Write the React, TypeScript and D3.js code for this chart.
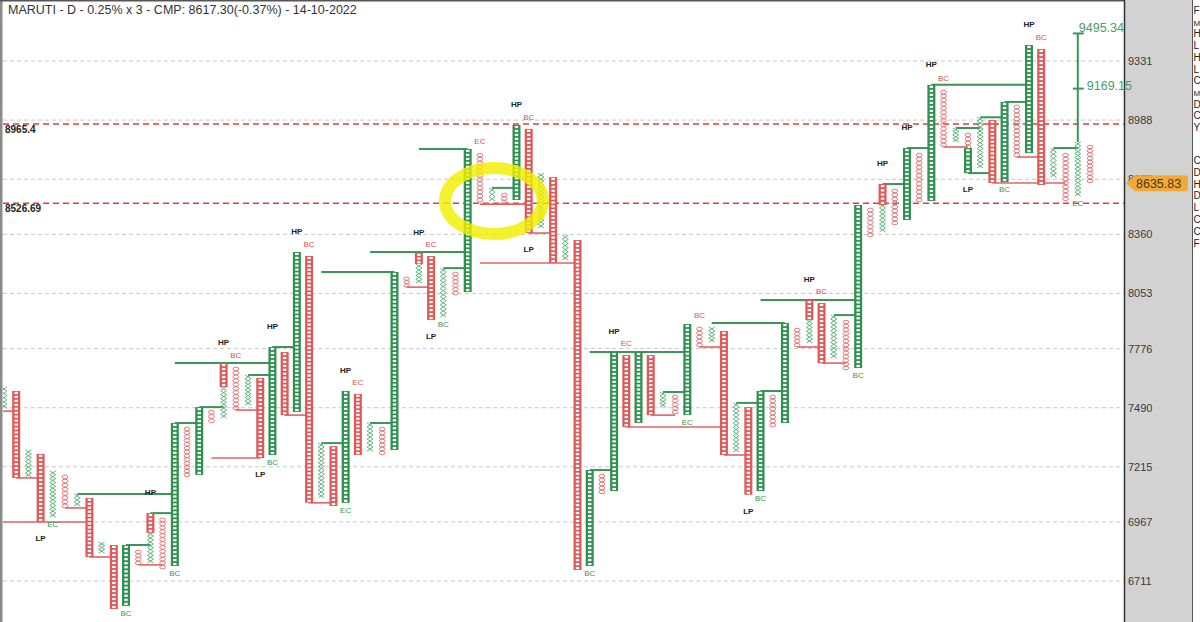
import React from "react";
import * as d3 from "d3";

const TITLE = "MARUTI - D - 0.25% x 3 - CMP: 8617.30(-0.37%) - 14-10-2022";
const BOX_PCT = 0.0025;
const TICKS = [9331, 8988, 8657, 8360, 8053, 7776, 7490, 7215, 6967, 6711];
const LEVEL_VALUES = [8965.4, 8526.69];
const LEVEL_LABELS = ["8965.4", "8526.69"];
const CMP_TAG = 8635.83;
const TARGET_VALUES = [9495.34, 9169.15];
const TARGET_LABELS = ["9495.34", "9169.15"];
const TARGET_COL = 89;

// column kinds: GB = boxed X (dark green), RB = boxed O (red), X = crosses, O = circles
const COL_KIND = [
  "X", "RB", "X", "RB", "X", "O", "X", "RB", "X", "RB",
  "GB", "O", "X", "O", "GB", "O", "GB", "O", "X", "O",
  "X", "RB", "GB", "RB", "GB", "RB", "X", "RB", "GB", "RB",
  "X", "O", "GB", "O", "X", "RB", "X", "O", "GB", "O",
  "X", "O", "GB", "RB", "X", "RB", "X", "RB", "GB", "O",
  "GB", "RB", "GB", "RB", "X", "O", "GB", "O", "X", "RB",
  "X", "RB", "GB", "O", "GB", "O", "X", "RB", "X", "O",
  "GB", "O", "X", "O", "GB", "O", "GB", "O", "X", "O",
  "X", "RB", "GB", "O", "GB", "RB", "X", "O", "X", "O",
];
const COL_HIGH = [
  7589, 7570, 7292, 7274, 7196, 7178, 7092, 7074, 6879, 6866,
  6866, 6844, 7006, 6985, 7418, 7399, 7493, 7479, 7705, 7686,
  7647, 7633, 7784, 7759, 8267, 8246, 7324, 7310, 7570, 7556,
  7418, 7399, 8163, 8137, 8262, 8246, 8183, 8163, 8825, 8802,
  8610, 8582, 8960, 8938, 8691, 8669, 8356, 8330, 7200, 7182,
  7759, 7744, 7759, 7744, 7565, 7551, 7898, 7883, 7883, 7863,
  7513, 7493, 7570, 7551, 7903, 7878, 8019, 8004, 7943, 7918,
  8517, 8501, 8631, 8604, 8830, 8802, 9191, 9161, 8943, 8915,
  9004, 8988, 9092, 9075, 9426, 9402, 8830, 8802, 8864, 8847,
];
const COL_LOW = [
  7488, 7164, 7169, 6967, 6989, 7029, 7038, 6814, 6831, 6593,
  6606, 6780, 6788, 6762, 6775, 7169, 7178, 7418, 7441, 7479,
  7503, 7255, 7269, 7455, 7470, 7052, 7074, 7038, 7052, 7269,
  7287, 7269, 7292, 8085, 8106, 7918, 7933, 8044, 8060, 8533,
  8539, 8522, 8544, 8367, 8394, 8210, 8225, 6758, 6775, 7092,
  7105, 7399, 7418, 7455, 7493, 7460, 7455, 7784, 7809, 7269,
  7283, 7088, 7105, 7399, 7418, 7784, 7804, 7705, 7730, 7671,
  7681, 8346, 8373, 8410, 8437, 8533, 8539, 8836, 8864, 8691,
  8719, 8637, 8642, 8780, 8802, 8626, 8669, 8539, 8566, 8637,
];
// boxed overlays on part of a column: [column, high, low, kind]
const OVERLAYS: [number, number, number, string][] = [
  [13, 7006, 6919, "RB"],
  [19, 7705, 7589, "RB"],
  [35, 8262, 8204, "RB"],
  [67, 8019, 7918, "RB"],
  [73, 8631, 8517, "RB"],
  [80, 8830, 8691, "GB"],
];
// connector lines: [fromCol, toCol, price]
const GREEN_LINES: [number, number, number][] = [
  [7, 15, 7092], [13, 15, 7006], [11, 13, 6866], [15, 17, 7418], [17, 19, 7493],
  [15, 23, 7705], [21, 23, 7647], [23, 25, 7784], [27, 29, 7324], [31, 33, 7418],
  [27, 33, 8163], [31, 39, 8267], [37, 39, 8183], [35, 39, 8825], [41, 43, 8610],
  [49, 51, 7200], [49, 57, 7759], [55, 57, 7565], [59, 65, 7903], [63, 71, 8019],
  [61, 63, 7513], [63, 65, 7570], [69, 71, 7943], [73, 75, 8631], [75, 77, 8830],
  [77, 85, 9191], [79, 81, 8943], [81, 83, 9004], [83, 85, 9092], [87, 89, 8830],
  [80, 82, 8691],
];
const RED_LINES: [number, number, number][] = [
  [0, 2, 7474], [2, 4, 7164], [0, 8, 6967], [6, 8, 7029], [8, 10, 6814],
  [12, 14, 6780], [18, 22, 7255], [20, 22, 7479], [24, 26, 7455], [26, 28, 7052],
  [34, 36, 8085], [40, 44, 8522], [44, 46, 8367], [40, 48, 8210], [52, 60, 7399],
  [54, 56, 7455], [58, 60, 7784], [60, 62, 7269], [66, 68, 7784], [68, 70, 7705],
  [78, 80, 8836], [84, 86, 8780], [82, 88, 8637],
];
const HP_COLS = [13, 19, 23, 25, 29, 35, 43, 51, 67, 73, 75, 77, 85];
const LP_COLS = [4, 22, 36, 44, 62, 80];
const RED_TAG_COLS = [20, 26, 30, 36, 40, 44, 52, 58, 68, 78, 86];
const RED_TAG_TEXT = ["BC", "BC", "EC", "EC", "EC", "BC", "EC", "BC", "BC", "BC", "BC"];
const GREEN_TAG_COLS = [5, 11, 15, 23, 29, 37, 49, 57, 63, 71, 83, 89];
const GREEN_TAG_TEXT = ["EC", "BC", "BC", "BC", "EC", "BC", "BC", "EC", "BC", "BC", "BC", "EC"];
const SIDE_LETTERS_TOP = ["F", "M", "H", "L", "H", "L", "C", "M", "D", "C", "Y"];
const SIDE_LETTERS_BOTTOM = ["C", "D", "H", "D", "L", "C", "C", "F"];

const C = {
  gb: "#2f9150",
  rb: "#e15858",
  x: "#4fae6e",
  o: "#e46a6a",
  gLine: "#3a9556",
  rLine: "#e36464",
  level: "#e03c3c",
  grid: "#c8c8c8",
};

export default function App() {
  const W = 1200, H = 622;
  const chartL = 3, chartR = 1124;
  const y = d3.scaleLog().domain([6711, 9331]).range([581, 61]);
  const x = d3.scaleLinear().domain([1, 90]).range([4, 1090]);
  const boxPx = y(7000) - y(7000 * (1 + BOX_PCT));

  const segment = (key: string, col: number, hi: number, lo: number, kind: string) => {
    const xc = x(col);
    const top = y(hi), bot = y(lo);
    const h = bot - top;
    const n = Math.max(1, Math.round(h / boxPx));
    const step = h / n;
    const idx = d3.range(n);
    if (kind === "GB" || kind === "RB") {
      const fill = kind === "GB" ? C.gb : C.rb;
      return (
        <g key={key}>
          <rect x={xc - 4} y={top} width={8} height={h} fill={fill} />
          {idx.map((k) => (
            <rect key={k} x={xc - 1.7} y={top + k * step + step / 2 - 1.1} width={3.4} height={2.2} fill="#fff" />
          ))}
        </g>
      );
    }
    if (kind === "X") {
      const d = idx
        .map((k) => {
          const cy = top + k * step + step / 2;
          const hh = step / 2;
          return `M${xc - 3},${cy - hh}L${xc + 3},${cy + hh}M${xc + 3},${cy - hh}L${xc - 3},${cy + hh}`;
        })
        .join("");
      return <path key={key} d={d} stroke={C.x} strokeWidth={0.9} fill="none" />;
    }
    return (
      <g key={key} stroke={C.o} strokeWidth={0.9} fill="none">
        {idx.map((k) => (
          <ellipse key={k} cx={xc} cy={top + k * step + step / 2} rx={2.9} ry={Math.max(0.8, step / 2 - 0.2)} />
        ))}
      </g>
    );
  };

  const font = "'Liberation Sans', Arial, sans-serif";

  return (
    <svg width={W} height={H} style={{ position: "absolute", left: 0, top: 0, background: "#fff" }} fontFamily={font}>
      <defs>
        <clipPath id="plot">
          <rect x={chartL} y={0} width={chartR - chartL} height={H} />
        </clipPath>
      </defs>
      <rect x={0} y={0} width={W} height={H} fill="#fff" />
      <g clipPath="url(#plot)">
        {TICKS.map((t) => (
          <line key={t} x1={chartL} x2={chartR} y1={y(t)} y2={y(t)} stroke={C.grid} strokeDasharray="4 3" strokeWidth={1} />
        ))}
        {LEVEL_VALUES.map((v, i) => (
          <line key={i} x1={chartL} x2={chartR} y1={y(v)} y2={y(v)} stroke={C.level} strokeDasharray="6 4" strokeWidth={1.5} />
        ))}
        {RED_LINES.map(([a, b, p], i) => (
          <line key={"r" + i} x1={x(a)} x2={x(b)} y1={y(p)} y2={y(p)} stroke={C.rLine} strokeWidth={1.6} />
        ))}
        {GREEN_LINES.map(([a, b, p], i) => (
          <line key={"g" + i} x1={x(a)} x2={x(b)} y1={y(p)} y2={y(p)} stroke={C.gLine} strokeWidth={2} />
        ))}
        {COL_KIND.map((k, i) => segment("c" + i, i + 1, COL_HIGH[i], COL_LOW[i], k))}
        {OVERLAYS.map(([c, hi, lo, k], i) => segment("ov" + i, c, hi, lo, k))}
        {/* target line */}
        <line x1={x(TARGET_COL)} x2={x(TARGET_COL)} y1={y(TARGET_VALUES[0])} y2={y(COL_HIGH[TARGET_COL - 1])} stroke={C.gLine} strokeWidth={2} />
        {TARGET_VALUES.map((v, i) => (
          <line key={"tt" + i} x1={x(TARGET_COL) - 5} x2={x(TARGET_COL) + 6} y1={y(v)} y2={y(v)} stroke={C.gLine} strokeWidth={2} />
        ))}
        {HP_COLS.map((c) => (
          <text key={"hp" + c} x={x(c)} y={y(COL_HIGH[c - 1]) - 18} fontSize={8} fontWeight="bold" fill="#222" textAnchor="middle">HP</text>
        ))}
        {LP_COLS.map((c) => (
          <text key={"lp" + c} x={x(c)} y={y(COL_LOW[c - 1]) + 19} fontSize={8} fontWeight="bold" fill="#222" textAnchor="middle">LP</text>
        ))}
        {RED_TAG_COLS.map((c, i) => (
          <text key={"rt" + c} x={x(c)} y={y(COL_HIGH[c - 1]) - 9} fontSize={8} fill="#e05050" textAnchor="middle">{RED_TAG_TEXT[i]}</text>
        ))}
        {GREEN_TAG_COLS.map((c, i) => (
          <text key={"gt" + c} x={x(c)} y={y(COL_LOW[c - 1]) + 10} fontSize={8} fill="#3a9556" textAnchor="middle">{GREEN_TAG_TEXT[i]}</text>
        ))}
        {/* highlight ring */}
        <ellipse cx={494} cy={201} rx={49} ry={33} fill="none" stroke="#f2ee00" strokeWidth={12} opacity={0.82} />
        {LEVEL_VALUES.map((v, i) => (
          <text key={"ll" + i} x={5} y={y(v) + 8.5} fontSize={10} fontWeight="bold" fill="#222">{LEVEL_LABELS[i]}</text>
        ))}
        <text x={8} y={14} fontSize={12.5} fill="#333">{TITLE}</text>
      </g>
      {/* frame */}
      <rect x={0} y={0} width={2.5} height={H} fill="#8a8a8a" />
      <rect x={0} y={0} width={chartR} height={1.5} fill="#555" />
      {/* right axis panel */}
      <rect x={chartR} y={0} width={1192 - chartR} height={H} fill="#d2d2d2" />
      <line x1={chartR + 0.5} x2={chartR + 0.5} y1={0} y2={H} stroke="#333" strokeWidth={1.5} />
      <line x1={1192.5} x2={1192.5} y1={0} y2={H} stroke="#555" strokeWidth={1} />
      {TICKS.map((t) => (
        <text key={"yl" + t} x={1128} y={y(t) + 4} fontSize={11} fill="#3a3a3a">{t}</text>
      ))}
      {TARGET_VALUES.map((v, i) => (
        <text key={"tl" + i} x={x(TARGET_COL) + (i === 0 ? 1 : 9)} y={y(v) + (i === 0 ? -1 : 1)} fontSize={12.5} fill="#45a066">
          {TARGET_LABELS[i]}
        </text>
      ))}
      <path
        d={`M1126,${y(CMP_TAG)} L1135,${y(CMP_TAG) - 8} L1185,${y(CMP_TAG) - 8} Q1188,${y(CMP_TAG) - 8} 1188,${y(CMP_TAG) - 5} L1188,${y(CMP_TAG) + 5} Q1188,${y(CMP_TAG) + 8} 1185,${y(CMP_TAG) + 8} L1135,${y(CMP_TAG) + 8} Z`}
        fill="#f2a93a"
      />
      <text x={1136} y={y(CMP_TAG) + 4.5} fontSize={12.5} fill="#4a3b10">{CMP_TAG.toFixed(2)}</text>
      {SIDE_LETTERS_TOP.map((l, i) => (
        <text key={"st" + i} x={1193.5} y={14 + i * 11.7} fontSize={l === "M" ? 8 : 10} fill="#222">{l}</text>
      ))}
      {SIDE_LETTERS_BOTTOM.map((l, i) => (
        <text key={"sb" + i} x={1193.5} y={164 + i * 11.8} fontSize={10} fill="#222">{l}</text>
      ))}
    </svg>
  );
}
